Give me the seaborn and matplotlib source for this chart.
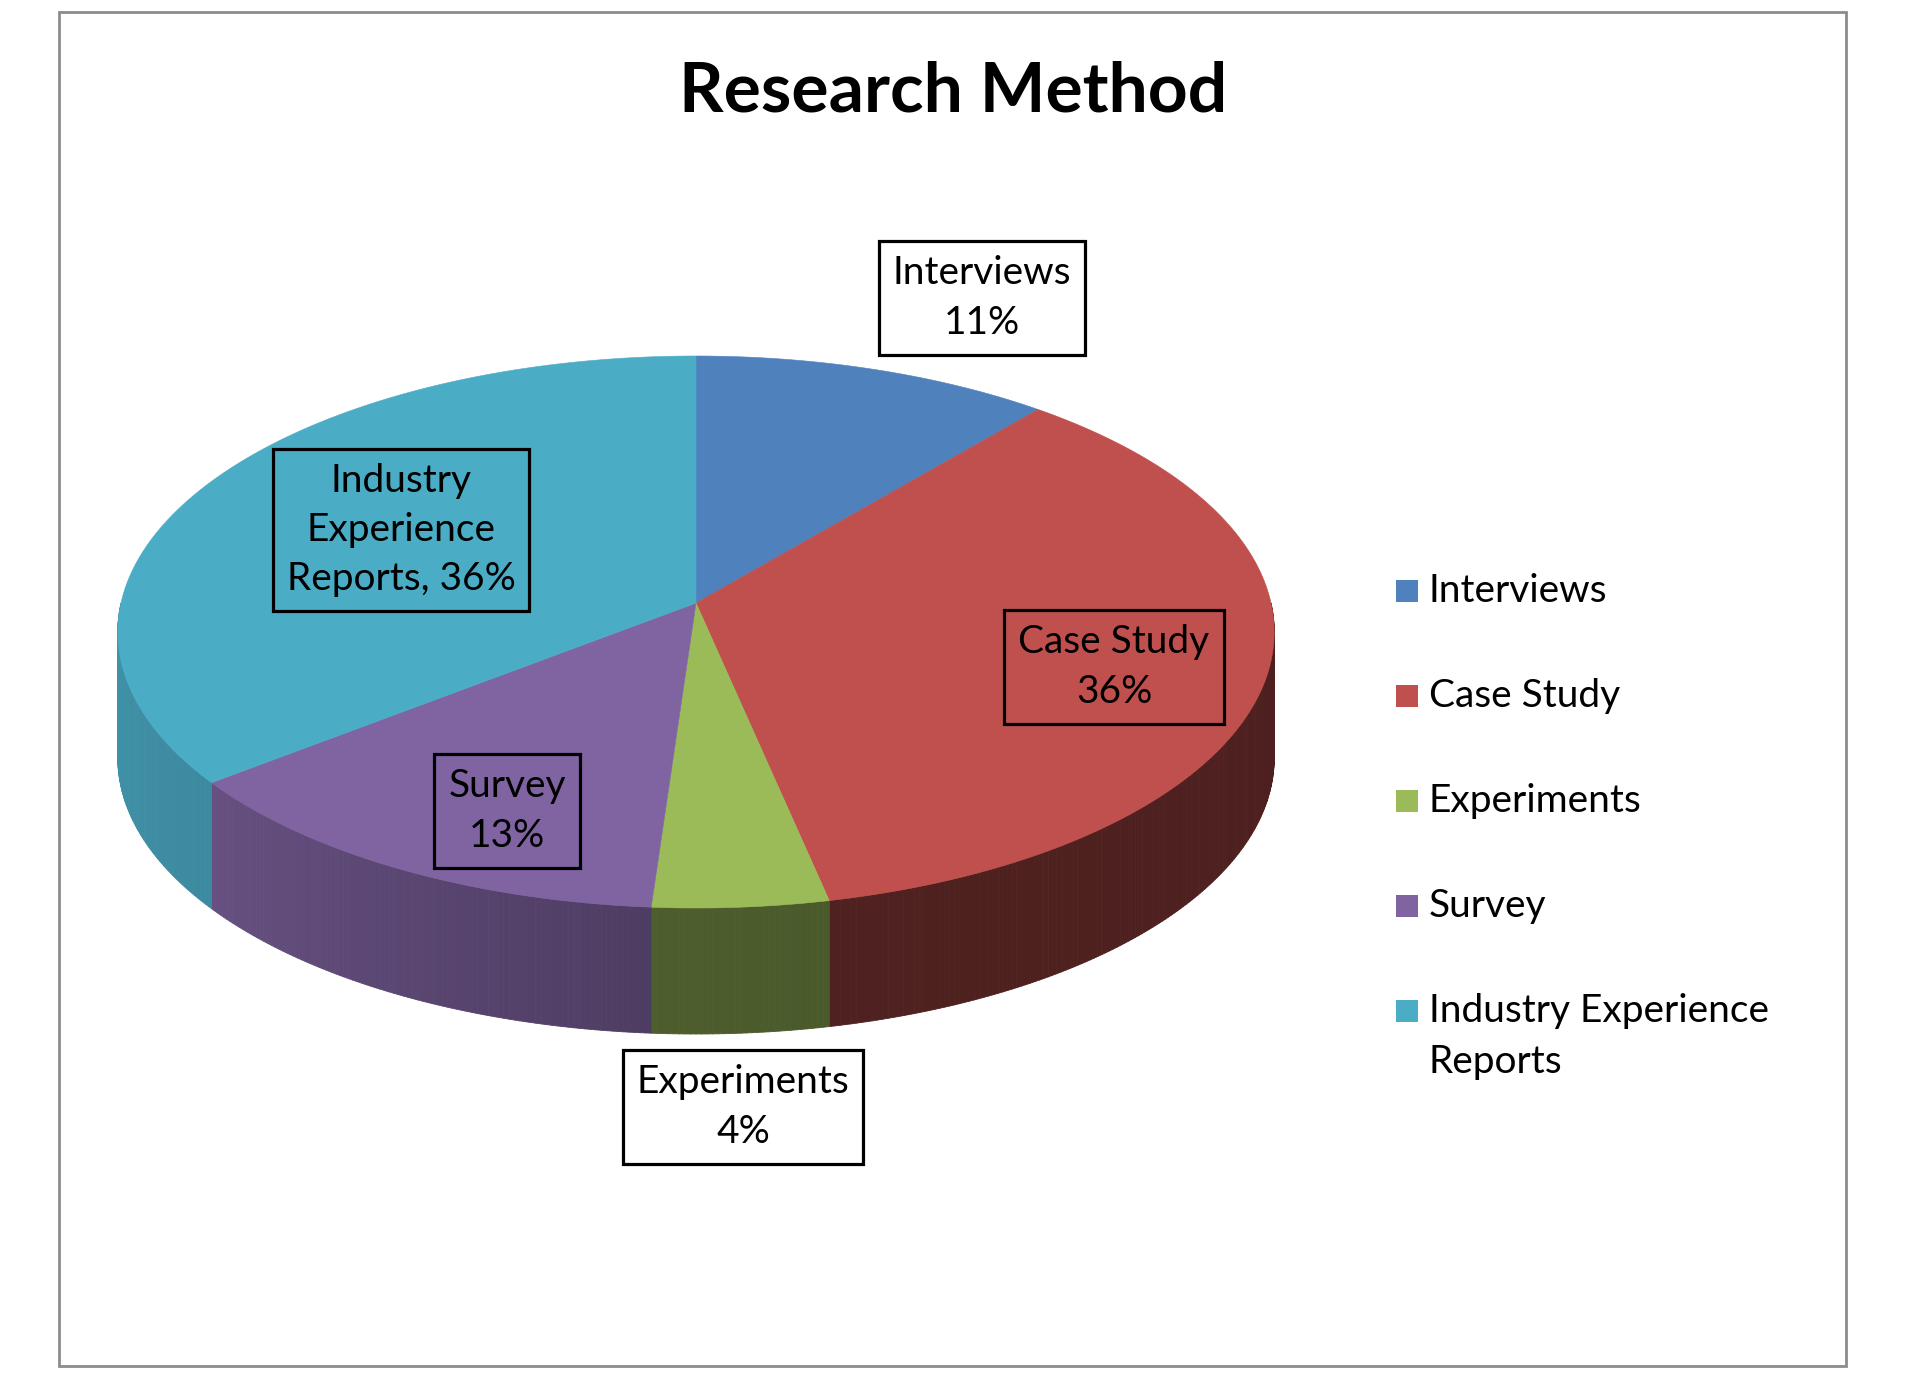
import numpy as np
import matplotlib
matplotlib.use("Agg")
import matplotlib.pyplot as plt
from matplotlib.collections import PolyCollection
from matplotlib.patches import Rectangle, Polygon
from matplotlib.colors import to_rgb
import seaborn as sns

# ── Data ──────────────────────────────────────────────────────────────────────
methods = ["Interviews", "Case Study", "Experiments", "Survey",
           "Industry Experience Reports"]
counts = [5, 16, 2, 6, 16]
# how each data label is wrapped in its box (percent appended below)
box_names = ["Interviews\n", "Case Study\n", "Experiments\n", "Survey\n",
             "Industry\nExperience\nReports, "]
legend_lines = [["Interviews"], ["Case Study"], ["Experiments"], ["Survey"],
                ["Industry Experience", "Reports"]]
colors = ["#4F81BD", "#C0504D", "#9BBB59", "#8064A2", "#4BACC6"]

# ── Style / layout (pixel coords of the 1925x1380 canvas) ────────────────────
W, H = 1925, 1380
cx, cy, rx, ry, depth = 696, 632, 575, 276, 126
tilt = 0.105          # perspective: pushes the pie apex towards the back
box_pos = [(982, 298), (1114, 667), (743, 1107), (507, 811), (401, 530)]
side_shade = [(0.41, 0.41), (0.41, 0.40), (0.50, 0.48), (0.80, 0.61), (0.86, 0.80)]
leg_x, leg_y, leg_step, leg_line = 1396, 591, 105, 51
FS = 28

sns.set_theme(style="white")
plt.rcParams["font.family"] = ["Lato", "DejaVu Sans"]

fig = plt.figure(figsize=(W / 100, H / 100), dpi=100)
fig.patch.set_facecolor("white")

# overlay axes in pixel coordinates for title / labels / legend / border
ov = fig.add_axes([0, 0, 1, 1])
ov.set_xlim(0, W)
ov.set_ylim(H, 0)
ov.axis("off")
ov.patch.set_visible(False)
ov.set_zorder(2)

# pie axes: unit circle stretched into the ellipse of the tilted pie
d = depth / ry
pad = 0.03
x0, x1 = cx - rx * (1 + pad), cx + rx * (1 + pad)
ytop, ybot = cy - ry * (1 + pad), cy + ry * (1 + d + pad)
ax = fig.add_axes([x0 / W, 1 - ybot / H, (x1 - x0) / W, (ybot - ytop) / H])
ax.set_zorder(1)


def project(x, y):
    """Perspective view of the pie plane (keeps the rim at top/bottom = +-1)."""
    den = 1 + tilt * y
    return x / den, (y + tilt) / den


wedges, _ = ax.pie(counts, colors=colors, startangle=90, counterclock=False,
                   radius=1, wedgeprops=dict(linewidth=0))
ax.set_aspect("auto")
ax.set_xlim(-1 - pad, 1 + pad)
ax.set_ylim(-1 - d - pad, 1 + pad)
ax.axis("off")

for w, col, (s0, s1) in zip(wedges, colors, side_shade):
    w.set_visible(False)
    # top face of the slice, seen in perspective
    t = np.radians(np.linspace(w.theta1, w.theta2, 400))
    px, py = project(np.r_[0, np.cos(t)], np.r_[0, np.sin(t)])
    ax.add_patch(Polygon(np.column_stack([px, py]), closed=True,
                         facecolor=col, edgecolor=col, linewidth=0.4, zorder=3))

    # side wall for the front half of the slice
    lo, hi = max(w.theta1, -180.0), min(w.theta2, 0.0)
    if hi <= lo:
        continue
    n = max(int((hi - lo) / 0.5), 2)
    ang = np.radians(np.linspace(lo, hi, n + 1))
    rxp, ryp = project(np.cos(ang), np.sin(ang))
    shade = np.linspace(s0, s1, n)
    base = np.array(to_rgb(col))
    polys = [[(rxp[j], ryp[j]), (rxp[j + 1], ryp[j + 1]),
              (rxp[j + 1], ryp[j + 1] - d), (rxp[j], ryp[j] - d)] for j in range(n)]
    fcs = [tuple(base * s) for s in shade]
    ax.add_collection(PolyCollection(polys, facecolors=fcs, edgecolors=fcs,
                                     linewidths=0.6, zorder=2))

# ── Title ────────────────────────────────────────────────────────────────────
ov.text(953, 92, "Research Method", ha="center", va="center",
        fontsize=50, fontweight="bold", color="black")

# ── Data labels in boxes ─────────────────────────────────────────────────────
total = sum(counts)
for name, c, (bx, by) in zip(box_names, counts, box_pos):
    pct = round(100 * c / total)
    ov.text(bx, by, f"{name}{pct}%", ha="center", va="center", fontsize=FS,
            linespacing=1.45, color="black",
            bbox=dict(boxstyle="square,pad=0.36", facecolor="none",
                      edgecolor="black", linewidth=2.3))

# ── Legend ───────────────────────────────────────────────────────────────────
for i, (lines, col) in enumerate(zip(legend_lines, colors)):
    y = leg_y + i * leg_step
    ov.add_patch(Rectangle((leg_x, y - 11), 22, 22, facecolor=col, edgecolor="none"))
    for k, line in enumerate(lines):
        ov.text(leg_x + 33, y + k * leg_line, line, ha="left", va="center",
                fontsize=FS, color="black")

# ── Chart border ─────────────────────────────────────────────────────────────
ov.add_patch(Rectangle((59, 12), 1787, 1354, fill=False, edgecolor="#8c8c8c",
                       linewidth=2))

fig.savefig("out.png", dpi=100, facecolor="white")
